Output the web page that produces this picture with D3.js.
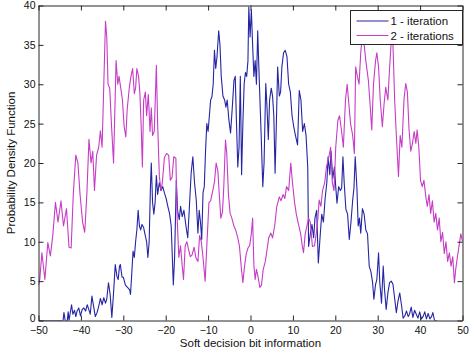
<!DOCTYPE html>
<html>
<head>
<meta charset="utf-8">
<script src="https://cdn.jsdelivr.net/npm/d3@7"></script>
<style>
  body { margin: 0; background: #fff; }
  svg { display: block; font-family: "Liberation Sans", Arial, sans-serif; }
</style>
</head>
<body>
<svg id="chart" width="474" height="363"></svg>
<script>
// tick values
var xTicks = [-50, -40, -30, -20, -10, 0, 10, 20, 30, 40, 50];
var yTicks = [0, 5, 10, 15, 20, 25, 30, 35, 40];

var seriesNames = ['1 - iteration', '2 - iterations'];
var seriesColors = ['#2424a4', '#c63cc6'];

// 1 - iteration
var iter1X = [-50, -44.2, -44, -43.7, -43.2, -43, -42.8, -42.2, -41.9, -41.5, -41.2, -40.9, -40.5, -40.1, -39.7, -39.3, -38.9, -38.5, -38.2, -37.8, -37.4, -37, -36.6, -36.2, -35.8, -35.4, -35, -34.6, -34.2, -33.9, -33.5, -33.1, -32.7, -32.3, -31.9, -31.5, -31.2, -30.9, -30.7, -30.3, -30, -29.5, -29, -28.5, -28.3, -28, -27.7, -27.4, -27.1, -26.8, -26.5, -26.2, -25.9, -25.6, -25.2, -24.9, -24.5, -24.2, -23.9, -23.6, -23.4, -23.1, -22.8, -22.5, -22.2, -21.9, -21.5, -21.1, -20.7, -20.3, -19.9, -19.5, -19.1, -18.7, -18.2, -17.9, -17.5, -17.2, -16.8, -16.5, -16.1, -15.7, -15.2, -14.8, -14.4, -14, -13.6, -13.2, -12.8, -12.4, -12.1, -11.8, -11.5, -11.2, -10.9, -10.6, -10.3, -10, -9.7, -9.4, -9.1, -8.8, -8.5, -8.2, -7.9, -7.5, -7.2, -6.9, -6.5, -6.1, -5.8, -5.5, -5.1, -4.7, -4.3, -3.9, -3.6, -3.3, -3, -2.7, -2.4, -2.1, -1.8, -1.5, -1.2, -0.9, -0.6, -0.4, -0.1, 0.2, 0.5, 0.8, 1.1, 1.4, 1.7, 2.1, 2.5, 2.9, 3.2, 3.6, 3.9, 4.2, 4.5, 4.9, 5.2, 5.5, 5.8, 6.1, 6.4, 6.8, 7.1, 7.4, 7.8, 8.2, 8.6, 9, 9.4, 9.8, 10.2, 10.6, 11.1, 11.5, 11.9, 12.3, 12.7, 13.1, 13.5, 13.7, 14.1, 14.5, 14.9, 15.2, 15.6, 16, 16.4, 16.8, 17.2, 17.6, 18, 18.3, 18.7, 19, 19.4, 19.8, 20.1, 20.4, 20.8, 21.2, 21.5, 21.8, 22.1, 22.5, 22.9, 23.3, 23.7, 24.1, 24.4, 24.7, 25.1, 25.4, 25.7, 26, 26.4, 26.8, 27.2, 27.6, 28, 28.4, 28.8, 29.1, 29.5, 29.8, 30.2, 30.5, 30.9, 31.3, 31.6, 32, 32.4, 32.8, 33.2, 33.6, 34, 34.4, 34.8, 35.2, 35.6, 36, 36.4, 36.8, 37.2, 37.5, 37.9, 38.3, 38.7, 39.1, 39.5, 39.9, 40.3, 40.7, 41.1, 41.5, 41.9, 42.3, 42.7, 43, 43.4, 44];
var iter1Y = [0, 0, 1, 0, 0, 1.1, 0, 2, 0.8, 1.3, 0.5, 1.2, 1.6, 0.6, 1.4, 1.6, 1.2, 2, 1.5, 0.8, 3.1, 1.8, 0.5, 1, 1.8, 2.8, 2, 2.9, 2.2, 2.7, 4.8, 3.3, 0.4, 3.5, 7.1, 5.6, 5.2, 6.9, 7.1, 5.5, 5.5, 4.5, 4.2, 3.9, 3.3, 6, 8.8, 8, 10, 11.5, 14, 12, 11.5, 12.2, 11.8, 11, 10, 8, 10, 17, 20, 15, 13.5, 15, 18.4, 16, 17.5, 16.5, 17, 16.2, 15.5, 14.5, 13.6, 12, 4.5, 8, 17.8, 14, 12.8, 14.5, 13.2, 14, 11.9, 10.5, 14.5, 18.7, 20.8, 17.5, 15.3, 11.1, 14, 12.5, 10.3, 16.2, 17, 21.6, 25, 24, 26, 28, 28.4, 30, 34.3, 32, 33.5, 36.8, 35, 31, 28.5, 28, 27.1, 28, 25.5, 23.8, 27, 30.5, 31, 25, 19.5, 22, 31, 18.5, 25, 30, 31.5, 31, 33, 39.8, 36, 39.5, 35, 31, 33, 30, 36.8, 30, 23.8, 17, 20, 30.1, 27, 23, 28, 29.5, 28.5, 26, 18.7, 25, 32.2, 28.5, 29, 32.2, 34, 34.3, 33.5, 30, 29, 26, 24.6, 23.5, 22.3, 29.2, 28, 24, 25, 23.5, 19.5, 9.4, 11, 12.2, 10.5, 13, 14, 7.3, 10.5, 13.5, 12.5, 15.5, 17.5, 20.8, 18.5, 21.5, 18, 19.5, 17, 14.9, 17, 16.5, 16.8, 20.8, 17.5, 14.1, 13.5, 10.3, 12.5, 15.3, 16.8, 20.8, 16.8, 12, 13, 11.1, 14.2, 13.5, 11.5, 11, 6.9, 6.2, 4.8, 2.7, 4.6, 5.2, 8.6, 4.8, 2.2, 6.9, 4, 1.4, 3.5, 4.8, 5, 4.6, 2.8, 1, 2.5, 3.5, 2, 0.3, 0.6, 1.2, 0.5, 0.8, 1.7, 0.4, 1.3, 0.8, 0.3, 1.1, 0.2, 0.5, 1.1, 0.2, 0.9, 0.2, 0.5, 1, 0, 0];

// 2 - iterations
var iter2X = [-50, -49.7, -49.2, -48.5, -47.8, -47.2, -46.6, -46, -45.4, -44.7, -44.1, -43.4, -42.8, -42.3, -41.8, -41.2, -40.7, -40.2, -39.6, -39.1, -38.6, -38.1, -37.6, -37.2, -36.8, -36.3, -35.8, -35.4, -35, -34.6, -34.2, -33.9, -33.6, -33.2, -32.8, -32.3, -31.7, -31.3, -31, -30.6, -30.2, -29.8, -29.4, -29.1, -28.6, -28.2, -27.8, -27.4, -27.1, -26.8, -26.4, -26.1, -25.8, -25.5, -25.2, -24.8, -24.5, -24.1, -23.7, -23.4, -23.1, -22.7, -22.2, -21.9, -21.5, -21.1, -20.8, -20.3, -19.8, -19.3, -18.9, -18.5, -18.1, -17.6, -17.3, -16.9, -16.5, -16.1, -15.8, -15.4, -15, -14.6, -14.2, -13.8, -13.3, -12.9, -12.4, -12, -11.6, -11.2, -10.7, -10.3, -9.8, -9.4, -8.9, -8.5, -8.1, -7.7, -7.3, -7, -6.6, -6.3, -5.9, -5.6, -5.2, -4.8, -4.4, -3.9, -3.5, -3, -2.6, -2.2, -1.8, -1.4, -1, -0.6, -0.2, 0.2, 0.5, 0.8, 1.1, 1.4, 1.8, 2.2, 2.6, 3, 3.5, 3.9, 4.3, 4.8, 5.2, 5.7, 6.2, 6.8, 7.2, 7.7, 8.1, 8.5, 9, 9.5, 9.9, 10.4, 10.8, 11.2, 11.8, 12.2, 12.5, 12.9, 13.3, 13.7, 14.1, 14.6, 15.1, 15.5, 15.9, 16.2, 16.6, 17, 17.5, 17.9, 18.5, 18.9, 19.3, 19.7, 20.1, 20.6, 21, 21.5, 21.9, 22.4, 22.8, 23.2, 23.6, 24.1, 24.5, 24.8, 25.2, 25.6, 26, 26.4, 26.8, 27.2, 27.8, 28.2, 28.6, 29, 29.5, 29.8, 30.2, 30.6, 31.1, 31.5, 31.9, 32.4, 32.8, 33.3, 33.6, 34, 34.4, 34.9, 35.3, 35.7, 36.2, 36.6, 37, 37.4, 37.8, 38.2, 38.6, 39, 39.3, 39.7, 40.1, 40.5, 40.9, 41.4, 41.7, 42.1, 42.5, 42.9, 43.3, 43.7, 44.1, 44.5, 44.9, 45.3, 45.7, 46.1, 46.5, 46.9, 47.3, 47.7, 48.1, 48.4, 48.8, 49.2, 49.6, 50];
var iter2Y = [4.5, 5.2, 8.6, 5.2, 9.9, 8.2, 11, 15, 12.5, 15.2, 12, 14.2, 9.3, 9.2, 16, 21, 20, 16, 12.5, 11.2, 16, 23, 20, 21.5, 16.5, 21, 22, 24.1, 22, 30, 38, 36, 30, 29.5, 25, 20, 33, 30, 31, 29.5, 28, 24.6, 23.3, 26.7, 29.5, 31, 32, 28.8, 29.5, 32, 31, 29, 25, 19.5, 28, 29, 26, 28.7, 24, 27, 23.5, 24, 32.4, 25, 18.3, 16.5, 17.5, 20.7, 21.2, 21, 17.8, 18.2, 20.8, 20.6, 13, 8, 9.5, 6.9, 5.2, 9.5, 10, 9, 8.1, 8.3, 9.3, 8, 7.5, 10.8, 10, 8, 5, 9.5, 15, 15.2, 16.5, 17.6, 20, 19, 15.5, 13, 13.8, 17, 22.9, 21.2, 16, 13.6, 13, 12, 11.5, 10.5, 9.4, 6.9, 4.8, 6.9, 8.5, 9.2, 9.5, 11, 13, 7, 5.2, 6.5, 5.5, 4.2, 4.5, 6.5, 7.5, 9, 10.5, 11.1, 10.5, 12, 14.5, 15.7, 15.2, 16, 15.5, 17, 16.5, 20, 17.5, 15, 13.5, 12.5, 11.1, 9.5, 8.6, 11, 12, 13, 12.5, 9.4, 9.5, 11, 13, 15.3, 14.5, 16.5, 17.5, 19.5, 20.8, 22, 17.5, 16.5, 22, 25.4, 26, 24, 22, 28, 30, 27.5, 25, 23.5, 21.2, 32.2, 31, 30, 34, 36.4, 35, 33, 30.5, 27.5, 24.2, 30, 33, 34, 32.2, 28, 24.6, 27.5, 29.6, 28, 32, 36.4, 35, 28, 23.5, 18.3, 23.5, 22, 28, 30.1, 29, 24.2, 21.5, 22.5, 24, 22.5, 24.2, 22, 17.8, 17, 17.8, 15.5, 14.5, 16, 13.6, 15.2, 12.5, 13.6, 11.5, 13, 10, 11.2, 8.5, 10, 7.5, 8.6, 6.9, 8.1, 4.8, 6.5, 8.1, 9.5, 11, 10];

var svg = d3.select('#chart');

var x = d3.scaleLinear().domain([-50, 50]).range([38.5, 462.5]);
var y = d3.scaleLinear().domain([0, 40]).range([320.5, 5.5]);

var axisColor = '#262626';

// clip to the axes box
svg.append('clipPath').attr('id', 'plotClip')
    .append('rect')
    .attr('x', x(-50)).attr('y', y(40))
    .attr('width', x(50) - x(-50)).attr('height', y(0) - y(40));

var line = d3.line()
    .x(d => x(d[0]))
    .y(d => y(d[1]));

var plot = svg.append('g').attr('clip-path', 'url(#plotClip)');

plot.append('path')
    .datum(d3.zip(iter1X, iter1Y))
    .attr('fill', 'none')
    .attr('stroke', seriesColors[0])
    .attr('stroke-width', 1.1)
    .attr('stroke-linejoin', 'round')
    .attr('d', line);

plot.append('path')
    .datum(d3.zip(iter2X, iter2Y))
    .attr('fill', 'none')
    .attr('stroke', seriesColors[1])
    .attr('stroke-width', 1.1)
    .attr('stroke-linejoin', 'round')
    .attr('d', line);

// axes, ticks pointing inwards on all four sides
var gx = svg.append('g')
    .attr('transform', 'translate(0,' + y(0) + ')')
    .call(d3.axisBottom(x).tickValues(xTicks).tickSizeInner(-5).tickSizeOuter(0).tickPadding(6));
var gy = svg.append('g')
    .attr('transform', 'translate(' + x(-50) + ',0)')
    .call(d3.axisLeft(y).tickValues(yTicks).tickSizeInner(-5).tickSizeOuter(0).tickPadding(3));
var gt = svg.append('g')
    .attr('transform', 'translate(0,' + y(40) + ')')
    .call(d3.axisTop(x).tickValues(xTicks).tickSizeInner(-5).tickSizeOuter(0).tickFormat(''));
var gr = svg.append('g')
    .attr('transform', 'translate(' + x(50) + ',0)')
    .call(d3.axisRight(y).tickValues(yTicks).tickSizeInner(-5).tickSizeOuter(0).tickFormat(''));

[gx, gy, gt, gr].forEach(g => {
    g.select('.domain').attr('stroke', axisColor);
    g.selectAll('.tick line').attr('stroke', axisColor);
    g.selectAll('.tick text')
        .attr('fill', '#111')
        .style('font-size', '10.5px')
        .style('font-family', '"Liberation Sans", Arial, sans-serif');
});

// the "0" label sits a touch higher so it clears "-50"
gy.selectAll('.tick').filter(d => d === 0).select('text').attr('y', -2);

// axis titles
svg.append('text')
    .attr('x', (x(-50) + x(50)) / 2)
    .attr('y', 347)
    .attr('text-anchor', 'middle')
    .attr('fill', '#111')
    .style('font-size', '11.5px')
    .text('Soft decision bit information');

svg.append('text')
    .attr('transform', 'translate(15,' + ((y(0) + y(40)) / 2) + ') rotate(-90)')
    .attr('text-anchor', 'middle')
    .attr('fill', '#111')
    .style('font-size', '11.5px')
    .text('Probability Density Function');

// legend
var legend = svg.append('g').attr('transform', 'translate(350.5,10.5)');
legend.append('rect')
    .attr('width', 112).attr('height', 34)
    .attr('fill', '#fff')
    .attr('stroke', axisColor);

seriesNames.forEach((name, i) => {
    var ly = 10.5 + i * 14.5;
    legend.append('line')
        .attr('x1', 6).attr('x2', 38)
        .attr('y1', ly).attr('y2', ly)
        .attr('stroke', seriesColors[i]);
    legend.append('text')
        .attr('x', 40).attr('y', ly + 4)
        .attr('fill', '#111')
        .style('font-size', '11.5px')
        .text(name);
});
</script>
</body>
</html>
